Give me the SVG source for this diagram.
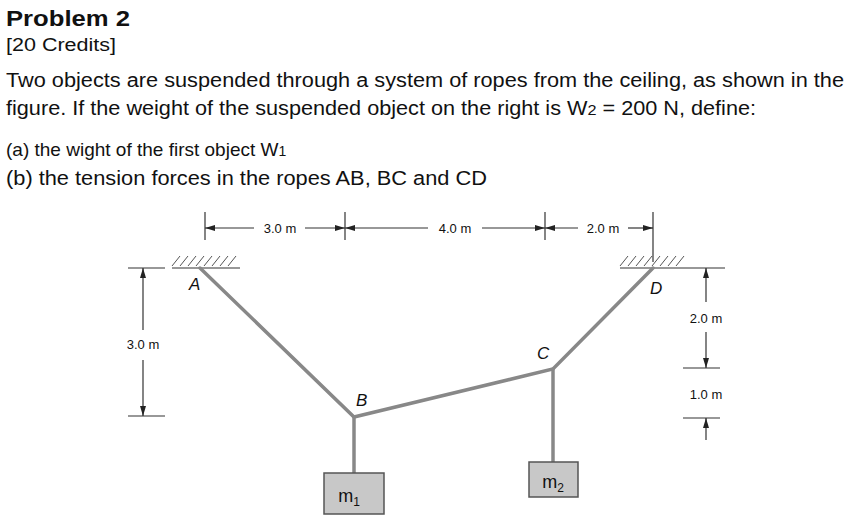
<svg xmlns="http://www.w3.org/2000/svg" width="850" height="520" viewBox="0 0 850 520">
<defs>
<style>
.t{font-family:"Liberation Sans",Arial,sans-serif;fill:#111}
.d{stroke:#333;stroke-width:1.2;fill:none}
.r{stroke:#888;stroke-width:3.5;fill:none;stroke-linecap:round}
.h{stroke:#555;stroke-width:1}
.box{fill:#c8c8c8;stroke:#555;stroke-width:1.5}
</style>
<marker id="ar" viewBox="0 0 10 6" refX="10" refY="3" markerWidth="10" markerHeight="6" orient="auto-start-reverse" markerUnits="userSpaceOnUse"><path d="M0,0L10,3L0,6z" fill="#222"/></marker>
</defs>
<rect width="850" height="520" fill="#fff"/>
<text class="t" x="6" y="26" font-size="22" font-weight="bold" textLength="124" lengthAdjust="spacingAndGlyphs">Problem 2</text>
<text class="t" x="6" y="51" font-size="18" textLength="110" lengthAdjust="spacingAndGlyphs">[20 Credits]</text>
<text class="t" x="6" y="87" font-size="20" textLength="838" lengthAdjust="spacingAndGlyphs">Two objects are suspended through a system of ropes from the ceiling, as shown in the</text>
<text class="t" x="6" y="115" font-size="20" textLength="750" lengthAdjust="spacingAndGlyphs">figure. If the weight of the suspended object on the right is W<tspan font-size="15">2</tspan> = 200 N, define:</text>
<text class="t" x="6" y="156" font-size="19">(a) the wight of the first object W<tspan font-size="14">1</tspan></text>
<text class="t" x="6" y="185" font-size="20" textLength="481" lengthAdjust="spacingAndGlyphs">(b) the tension forces in the ropes AB, BC and CD</text>
<g id="ceilings">
<line class="d" x1="172" y1="268" x2="240" y2="268"/>
<path class="h" d="M172,266l8,-10M180,266l8,-10M188,266l8,-10M196,266l8,-10M204,266l8,-10M212,266l8,-10M220,266l8,-10M228,266l8,-10"/>
<line class="d" x1="620" y1="268" x2="688" y2="268"/>
<path class="h" d="M620,266l8,-10M628,266l8,-10M636,266l8,-10M644,266l8,-10M652,266l8,-10M660,266l8,-10M668,266l8,-10M676,266l8,-10"/>
</g>
<g id="connectors">
<polyline class="r" points="200,268 354,417 553,369 653,268"/>
<line class="r" x1="354" y1="417" x2="354" y2="473"/>
<line class="r" x1="553" y1="369" x2="553" y2="462"/>
</g>
<g id="m1"><rect class="box" x="324" y="473" width="60" height="41"/><text class="t" x="349" y="502" font-size="18" text-anchor="middle">m<tspan font-size="12" dy="4">1</tspan></text></g>
<g id="m2"><rect class="box" x="529" y="462" width="49" height="35"/><text class="t" x="553" y="488" font-size="18" text-anchor="middle">m<tspan font-size="12" dy="4">2</tspan></text></g>
<g id="labels" font-size="17" font-style="italic">
<text class="t" x="189" y="290">A</text>
<text class="t" x="650" y="294">D</text>
<text class="t" x="537" y="359">C</text>
<text class="t" x="356" y="406">B</text>
</g>
<g id="dims">
<line class="d" x1="205" y1="212" x2="205" y2="240"/>
<line class="d" x1="345" y1="212" x2="345" y2="240"/>
<line class="d" x1="545" y1="212" x2="545" y2="240"/>
<line class="d" x1="653" y1="212" x2="653" y2="262"/>
<line class="d" x1="205" y1="228" x2="254" y2="228" marker-start="url(#ar)"/>
<line class="d" x1="305" y1="228" x2="345" y2="228" marker-end="url(#ar)"/>
<line class="d" x1="345" y1="228" x2="428" y2="228" marker-start="url(#ar)"/>
<line class="d" x1="482" y1="228" x2="545" y2="228" marker-end="url(#ar)"/>
<line class="d" x1="545" y1="228" x2="578" y2="228" marker-start="url(#ar)"/>
<line class="d" x1="628" y1="228" x2="653" y2="228" marker-end="url(#ar)"/>
<text class="t" x="280" y="233" font-size="13" text-anchor="middle">3.0 m</text>
<text class="t" x="455" y="233" font-size="13" text-anchor="middle">4.0 m</text>
<text class="t" x="603" y="233" font-size="13" text-anchor="middle">2.0 m</text>
<line class="d" x1="128" y1="268" x2="165" y2="268"/>
<line class="d" x1="128" y1="416" x2="165" y2="416"/>
<line class="d" x1="143" y1="330" x2="143" y2="268" marker-end="url(#ar)"/>
<line class="d" x1="143" y1="360" x2="143" y2="416" marker-end="url(#ar)"/>
<text class="t" x="143" y="349" font-size="13" text-anchor="middle">3.0 m</text>
<line class="d" x1="688" y1="268" x2="725" y2="268"/>
<line class="d" x1="683" y1="368" x2="720" y2="368"/>
<line class="d" x1="683" y1="418" x2="720" y2="418"/>
<line class="d" x1="706" y1="302" x2="706" y2="268" marker-end="url(#ar)"/>
<line class="d" x1="706" y1="332" x2="706" y2="368" marker-end="url(#ar)"/>
<line class="d" x1="706" y1="440" x2="706" y2="418" marker-end="url(#ar)"/>
<text class="t" x="706" y="323" font-size="13" text-anchor="middle">2.0 m</text>
<text class="t" x="706" y="399" font-size="13" text-anchor="middle">1.0 m</text>
</g>
</svg>
